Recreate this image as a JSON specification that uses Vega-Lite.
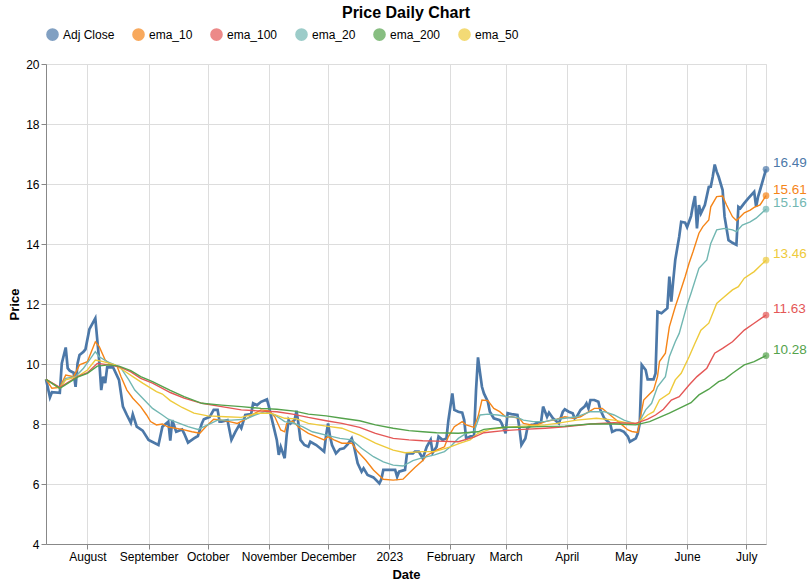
{
"$schema":"https://vega.github.io/schema/vega-lite/v6.json",
"width":720,"height":480,
"padding":{"left":8,"top":5,"right":0,"bottom":5},
"title":{"text":"Price Daily Chart","fontSize":16,"fontWeight":"bold","offset":7},
"config":{"font":"Liberation Sans","axis":{"labelFontSize":12,"titleFontSize":13},"axisX":{"titlePadding":6},"legend":{"orient":"top","title":null,"labelFontSize":12,"symbolSize":160,"symbolType":"circle","columnPadding":17,"offset":23}},
"data":{"format":{"parse":{"Date":"date"}},"values":[
{"Date":"2022-07-11","Series":"Adj Close","Price":9.49},{"Date":"2022-07-13","Series":"Adj Close","Price":8.89},{"Date":"2022-07-14","Series":"Adj Close","Price":9.06},{"Date":"2022-07-18","Series":"Adj Close","Price":9.04},{"Date":"2022-07-19","Series":"Adj Close","Price":10.02},{"Date":"2022-07-21","Series":"Adj Close","Price":10.55},{"Date":"2022-07-22","Series":"Adj Close","Price":9.86},{"Date":"2022-07-23","Series":"Adj Close","Price":9.78},{"Date":"2022-07-25","Series":"Adj Close","Price":9.71},{"Date":"2022-07-26","Series":"Adj Close","Price":9.24},{"Date":"2022-07-27","Series":"Adj Close","Price":10.02},{"Date":"2022-07-28","Series":"Adj Close","Price":10.3},{"Date":"2022-07-30","Series":"Adj Close","Price":10.41},{"Date":"2022-07-31","Series":"Adj Close","Price":10.49},{"Date":"2022-08-02","Series":"Adj Close","Price":11.16},{"Date":"2022-08-05","Series":"Adj Close","Price":11.52},{"Date":"2022-08-06","Series":"Adj Close","Price":10.8},{"Date":"2022-08-07","Series":"Adj Close","Price":10.08},{"Date":"2022-08-08","Series":"Adj Close","Price":9.13},{"Date":"2022-08-09","Series":"Adj Close","Price":9.58},{"Date":"2022-08-10","Series":"Adj Close","Price":9.36},{"Date":"2022-08-11","Series":"Adj Close","Price":9.89},{"Date":"2022-08-14","Series":"Adj Close","Price":9.89},{"Date":"2022-08-17","Series":"Adj Close","Price":9.47},{"Date":"2022-08-19","Series":"Adj Close","Price":8.58},{"Date":"2022-08-21","Series":"Adj Close","Price":8.3},{"Date":"2022-08-23","Series":"Adj Close","Price":8.04},{"Date":"2022-08-24","Series":"Adj Close","Price":8.32},{"Date":"2022-08-26","Series":"Adj Close","Price":7.91},{"Date":"2022-08-29","Series":"Adj Close","Price":7.78},{"Date":"2022-09-01","Series":"Adj Close","Price":7.47},{"Date":"2022-09-06","Series":"Adj Close","Price":7.3},{"Date":"2022-09-08","Series":"Adj Close","Price":7.91},{"Date":"2022-09-11","Series":"Adj Close","Price":8.08},{"Date":"2022-09-12","Series":"Adj Close","Price":7.45},{"Date":"2022-09-13","Series":"Adj Close","Price":8.13},{"Date":"2022-09-15","Series":"Adj Close","Price":7.74},{"Date":"2022-09-18","Series":"Adj Close","Price":7.82},{"Date":"2022-09-19","Series":"Adj Close","Price":7.69},{"Date":"2022-09-21","Series":"Adj Close","Price":7.38},{"Date":"2022-09-24","Series":"Adj Close","Price":7.52},{"Date":"2022-09-26","Series":"Adj Close","Price":7.6},{"Date":"2022-09-28","Series":"Adj Close","Price":8.02},{"Date":"2022-09-29","Series":"Adj Close","Price":8.16},{"Date":"2022-10-02","Series":"Adj Close","Price":8.24},{"Date":"2022-10-04","Series":"Adj Close","Price":8.47},{"Date":"2022-10-06","Series":"Adj Close","Price":8.47},{"Date":"2022-10-07","Series":"Adj Close","Price":8.08},{"Date":"2022-10-08","Series":"Adj Close","Price":8.08},{"Date":"2022-10-11","Series":"Adj Close","Price":8.13},{"Date":"2022-10-13","Series":"Adj Close","Price":7.47},{"Date":"2022-10-15","Series":"Adj Close","Price":7.74},{"Date":"2022-10-17","Series":"Adj Close","Price":7.97},{"Date":"2022-10-18","Series":"Adj Close","Price":7.86},{"Date":"2022-10-20","Series":"Adj Close","Price":8.3},{"Date":"2022-10-23","Series":"Adj Close","Price":8.33},{"Date":"2022-10-24","Series":"Adj Close","Price":8.69},{"Date":"2022-10-26","Series":"Adj Close","Price":8.63},{"Date":"2022-10-28","Series":"Adj Close","Price":8.74},{"Date":"2022-10-31","Series":"Adj Close","Price":8.82},{"Date":"2022-11-01","Series":"Adj Close","Price":8.58},{"Date":"2022-11-03","Series":"Adj Close","Price":8.02},{"Date":"2022-11-05","Series":"Adj Close","Price":7.47},{"Date":"2022-11-06","Series":"Adj Close","Price":6.97},{"Date":"2022-11-07","Series":"Adj Close","Price":7.24},{"Date":"2022-11-09","Series":"Adj Close","Price":6.86},{"Date":"2022-11-10","Series":"Adj Close","Price":7.63},{"Date":"2022-11-11","Series":"Adj Close","Price":8.13},{"Date":"2022-11-12","Series":"Adj Close","Price":8.02},{"Date":"2022-11-14","Series":"Adj Close","Price":8.13},{"Date":"2022-11-15","Series":"Adj Close","Price":8.44},{"Date":"2022-11-16","Series":"Adj Close","Price":8.0},{"Date":"2022-11-17","Series":"Adj Close","Price":7.47},{"Date":"2022-11-19","Series":"Adj Close","Price":7.3},{"Date":"2022-11-21","Series":"Adj Close","Price":7.24},{"Date":"2022-11-22","Series":"Adj Close","Price":7.41},{"Date":"2022-11-25","Series":"Adj Close","Price":7.3},{"Date":"2022-11-27","Series":"Adj Close","Price":7.19},{"Date":"2022-11-29","Series":"Adj Close","Price":7.08},{"Date":"2022-11-30","Series":"Adj Close","Price":7.63},{"Date":"2022-12-01","Series":"Adj Close","Price":8.02},{"Date":"2022-12-02","Series":"Adj Close","Price":7.58},{"Date":"2022-12-03","Series":"Adj Close","Price":7.3},{"Date":"2022-12-05","Series":"Adj Close","Price":7.02},{"Date":"2022-12-07","Series":"Adj Close","Price":7.16},{"Date":"2022-12-09","Series":"Adj Close","Price":7.19},{"Date":"2022-12-11","Series":"Adj Close","Price":7.33},{"Date":"2022-12-13","Series":"Adj Close","Price":7.52},{"Date":"2022-12-14","Series":"Adj Close","Price":7.3},{"Date":"2022-12-16","Series":"Adj Close","Price":6.69},{"Date":"2022-12-18","Series":"Adj Close","Price":6.41},{"Date":"2022-12-19","Series":"Adj Close","Price":6.52},{"Date":"2022-12-21","Series":"Adj Close","Price":6.3},{"Date":"2022-12-24","Series":"Adj Close","Price":6.22},{"Date":"2022-12-27","Series":"Adj Close","Price":6.02},{"Date":"2022-12-28","Series":"Adj Close","Price":6.16},{"Date":"2022-12-29","Series":"Adj Close","Price":6.47},{"Date":"2023-01-01","Series":"Adj Close","Price":6.47},{"Date":"2023-01-04","Series":"Adj Close","Price":6.47},{"Date":"2023-01-05","Series":"Adj Close","Price":6.24},{"Date":"2023-01-06","Series":"Adj Close","Price":6.41},{"Date":"2023-01-09","Series":"Adj Close","Price":6.47},{"Date":"2023-01-10","Series":"Adj Close","Price":7.02},{"Date":"2023-01-13","Series":"Adj Close","Price":7.02},{"Date":"2023-01-14","Series":"Adj Close","Price":7.08},{"Date":"2023-01-16","Series":"Adj Close","Price":7.08},{"Date":"2023-01-18","Series":"Adj Close","Price":6.85},{"Date":"2023-01-20","Series":"Adj Close","Price":7.24},{"Date":"2023-01-22","Series":"Adj Close","Price":7.47},{"Date":"2023-01-23","Series":"Adj Close","Price":7.04},{"Date":"2023-01-25","Series":"Adj Close","Price":7.24},{"Date":"2023-01-26","Series":"Adj Close","Price":7.58},{"Date":"2023-01-28","Series":"Adj Close","Price":7.47},{"Date":"2023-01-30","Series":"Adj Close","Price":7.52},{"Date":"2023-01-31","Series":"Adj Close","Price":8.13},{"Date":"2023-02-02","Series":"Adj Close","Price":9.02},{"Date":"2023-02-03","Series":"Adj Close","Price":8.47},{"Date":"2023-02-05","Series":"Adj Close","Price":8.41},{"Date":"2023-02-07","Series":"Adj Close","Price":8.38},{"Date":"2023-02-08","Series":"Adj Close","Price":8.13},{"Date":"2023-02-09","Series":"Adj Close","Price":7.52},{"Date":"2023-02-11","Series":"Adj Close","Price":7.58},{"Date":"2023-02-13","Series":"Adj Close","Price":7.63},{"Date":"2023-02-14","Series":"Adj Close","Price":9.13},{"Date":"2023-02-15","Series":"Adj Close","Price":10.22},{"Date":"2023-02-16","Series":"Adj Close","Price":9.72},{"Date":"2023-02-17","Series":"Adj Close","Price":9.24},{"Date":"2023-02-18","Series":"Adj Close","Price":9.02},{"Date":"2023-02-20","Series":"Adj Close","Price":8.74},{"Date":"2023-02-21","Series":"Adj Close","Price":8.41},{"Date":"2023-02-23","Series":"Adj Close","Price":8.19},{"Date":"2023-02-26","Series":"Adj Close","Price":8.13},{"Date":"2023-02-27","Series":"Adj Close","Price":8.02},{"Date":"2023-03-01","Series":"Adj Close","Price":7.69},{"Date":"2023-03-02","Series":"Adj Close","Price":8.36},{"Date":"2023-03-04","Series":"Adj Close","Price":8.33},{"Date":"2023-03-07","Series":"Adj Close","Price":8.3},{"Date":"2023-03-08","Series":"Adj Close","Price":7.86},{"Date":"2023-03-09","Series":"Adj Close","Price":7.3},{"Date":"2023-03-11","Series":"Adj Close","Price":7.52},{"Date":"2023-03-12","Series":"Adj Close","Price":7.86},{"Date":"2023-03-14","Series":"Adj Close","Price":7.97},{"Date":"2023-03-15","Series":"Adj Close","Price":7.97},{"Date":"2023-03-17","Series":"Adj Close","Price":8.04},{"Date":"2023-03-19","Series":"Adj Close","Price":8.08},{"Date":"2023-03-20","Series":"Adj Close","Price":8.58},{"Date":"2023-03-22","Series":"Adj Close","Price":8.24},{"Date":"2023-03-23","Series":"Adj Close","Price":8.38},{"Date":"2023-03-25","Series":"Adj Close","Price":8.19},{"Date":"2023-03-26","Series":"Adj Close","Price":8.13},{"Date":"2023-03-28","Series":"Adj Close","Price":8.02},{"Date":"2023-03-30","Series":"Adj Close","Price":8.41},{"Date":"2023-03-31","Series":"Adj Close","Price":8.49},{"Date":"2023-04-02","Series":"Adj Close","Price":8.41},{"Date":"2023-04-04","Series":"Adj Close","Price":8.36},{"Date":"2023-04-05","Series":"Adj Close","Price":8.19},{"Date":"2023-04-06","Series":"Adj Close","Price":8.24},{"Date":"2023-04-08","Series":"Adj Close","Price":8.47},{"Date":"2023-04-10","Series":"Adj Close","Price":8.58},{"Date":"2023-04-11","Series":"Adj Close","Price":8.69},{"Date":"2023-04-12","Series":"Adj Close","Price":8.52},{"Date":"2023-04-13","Series":"Adj Close","Price":8.8},{"Date":"2023-04-15","Series":"Adj Close","Price":8.8},{"Date":"2023-04-17","Series":"Adj Close","Price":8.74},{"Date":"2023-04-18","Series":"Adj Close","Price":8.47},{"Date":"2023-04-20","Series":"Adj Close","Price":8.19},{"Date":"2023-04-21","Series":"Adj Close","Price":8.13},{"Date":"2023-04-23","Series":"Adj Close","Price":8.02},{"Date":"2023-04-24","Series":"Adj Close","Price":7.74},{"Date":"2023-04-26","Series":"Adj Close","Price":7.8},{"Date":"2023-04-28","Series":"Adj Close","Price":7.8},{"Date":"2023-04-30","Series":"Adj Close","Price":7.74},{"Date":"2023-05-02","Series":"Adj Close","Price":7.58},{"Date":"2023-05-03","Series":"Adj Close","Price":7.41},{"Date":"2023-05-06","Series":"Adj Close","Price":7.52},{"Date":"2023-05-07","Series":"Adj Close","Price":7.69},{"Date":"2023-05-08","Series":"Adj Close","Price":8.02},{"Date":"2023-05-09","Series":"Adj Close","Price":9.97},{"Date":"2023-05-11","Series":"Adj Close","Price":9.8},{"Date":"2023-05-12","Series":"Adj Close","Price":9.49},{"Date":"2023-05-15","Series":"Adj Close","Price":9.49},{"Date":"2023-05-16","Series":"Adj Close","Price":9.69},{"Date":"2023-05-17","Series":"Adj Close","Price":11.74},{"Date":"2023-05-19","Series":"Adj Close","Price":11.69},{"Date":"2023-05-22","Series":"Adj Close","Price":11.86},{"Date":"2023-05-23","Series":"Adj Close","Price":12.91},{"Date":"2023-05-24","Series":"Adj Close","Price":12.08},{"Date":"2023-05-25","Series":"Adj Close","Price":12.8},{"Date":"2023-05-26","Series":"Adj Close","Price":13.47},{"Date":"2023-05-27","Series":"Adj Close","Price":13.86},{"Date":"2023-05-28","Series":"Adj Close","Price":14.24},{"Date":"2023-05-29","Series":"Adj Close","Price":14.74},{"Date":"2023-05-31","Series":"Adj Close","Price":14.71},{"Date":"2023-06-01","Series":"Adj Close","Price":14.56},{"Date":"2023-06-03","Series":"Adj Close","Price":14.93},{"Date":"2023-06-04","Series":"Adj Close","Price":15.3},{"Date":"2023-06-05","Series":"Adj Close","Price":15.6},{"Date":"2023-06-06","Series":"Adj Close","Price":14.52},{"Date":"2023-06-07","Series":"Adj Close","Price":15.3},{"Date":"2023-06-08","Series":"Adj Close","Price":15.02},{"Date":"2023-06-10","Series":"Adj Close","Price":15.3},{"Date":"2023-06-12","Series":"Adj Close","Price":15.9},{"Date":"2023-06-13","Series":"Adj Close","Price":15.91},{"Date":"2023-06-14","Series":"Adj Close","Price":16.24},{"Date":"2023-06-15","Series":"Adj Close","Price":16.65},{"Date":"2023-06-16","Series":"Adj Close","Price":16.41},{"Date":"2023-06-17","Series":"Adj Close","Price":16.24},{"Date":"2023-06-19","Series":"Adj Close","Price":15.8},{"Date":"2023-06-20","Series":"Adj Close","Price":14.91},{"Date":"2023-06-22","Series":"Adj Close","Price":14.13},{"Date":"2023-06-24","Series":"Adj Close","Price":14.04},{"Date":"2023-06-26","Series":"Adj Close","Price":13.97},{"Date":"2023-06-27","Series":"Adj Close","Price":15.24},{"Date":"2023-06-28","Series":"Adj Close","Price":15.19},{"Date":"2023-06-30","Series":"Adj Close","Price":15.36},{"Date":"2023-07-02","Series":"Adj Close","Price":15.52},{"Date":"2023-07-05","Series":"Adj Close","Price":15.74},{"Date":"2023-07-06","Series":"Adj Close","Price":15.24},{"Date":"2023-07-07","Series":"Adj Close","Price":15.58},{"Date":"2023-07-08","Series":"Adj Close","Price":15.8},{"Date":"2023-07-11","Series":"Adj Close","Price":16.49},
{"Date":"2022-07-11","Series":"ema_10","Price":9.49},{"Date":"2022-07-14","Series":"ema_10","Price":9.19},{"Date":"2022-07-18","Series":"ema_10","Price":9.22},{"Date":"2022-07-21","Series":"ema_10","Price":9.63},{"Date":"2022-07-25","Series":"ema_10","Price":9.58},{"Date":"2022-07-28","Series":"ema_10","Price":9.97},{"Date":"2022-08-01","Series":"ema_10","Price":10.08},{"Date":"2022-08-03","Series":"ema_10","Price":10.41},{"Date":"2022-08-05","Series":"ema_10","Price":10.74},{"Date":"2022-08-07","Series":"ema_10","Price":10.58},{"Date":"2022-08-10","Series":"ema_10","Price":10.13},{"Date":"2022-08-12","Series":"ema_10","Price":10.02},{"Date":"2022-08-16","Series":"ema_10","Price":9.93},{"Date":"2022-08-18","Series":"ema_10","Price":9.58},{"Date":"2022-08-21","Series":"ema_10","Price":9.13},{"Date":"2022-08-24","Series":"ema_10","Price":8.86},{"Date":"2022-08-28","Series":"ema_10","Price":8.58},{"Date":"2022-08-31","Series":"ema_10","Price":8.3},{"Date":"2022-09-02","Series":"ema_10","Price":8.08},{"Date":"2022-09-05","Series":"ema_10","Price":7.97},{"Date":"2022-09-08","Series":"ema_10","Price":8.0},{"Date":"2022-09-11","Series":"ema_10","Price":7.9},{"Date":"2022-09-18","Series":"ema_10","Price":7.82},{"Date":"2022-09-23","Series":"ema_10","Price":7.74},{"Date":"2022-09-27","Series":"ema_10","Price":7.69},{"Date":"2022-09-30","Series":"ema_10","Price":7.91},{"Date":"2022-10-04","Series":"ema_10","Price":8.16},{"Date":"2022-10-08","Series":"ema_10","Price":8.13},{"Date":"2022-10-12","Series":"ema_10","Price":8.08},{"Date":"2022-10-16","Series":"ema_10","Price":8.02},{"Date":"2022-10-21","Series":"ema_10","Price":8.19},{"Date":"2022-10-25","Series":"ema_10","Price":8.36},{"Date":"2022-10-28","Series":"ema_10","Price":8.47},{"Date":"2022-11-01","Series":"ema_10","Price":8.44},{"Date":"2022-11-04","Series":"ema_10","Price":8.24},{"Date":"2022-11-07","Series":"ema_10","Price":7.8},{"Date":"2022-11-09","Series":"ema_10","Price":7.74},{"Date":"2022-11-10","Series":"ema_10","Price":8.02},{"Date":"2022-11-13","Series":"ema_10","Price":8.1},{"Date":"2022-11-16","Series":"ema_10","Price":7.9},{"Date":"2022-11-21","Series":"ema_10","Price":7.69},{"Date":"2022-11-25","Series":"ema_10","Price":7.58},{"Date":"2022-11-29","Series":"ema_10","Price":7.47},{"Date":"2022-12-01","Series":"ema_10","Price":7.58},{"Date":"2022-12-04","Series":"ema_10","Price":7.47},{"Date":"2022-12-08","Series":"ema_10","Price":7.36},{"Date":"2022-12-13","Series":"ema_10","Price":7.36},{"Date":"2022-12-16","Series":"ema_10","Price":7.08},{"Date":"2022-12-20","Series":"ema_10","Price":6.8},{"Date":"2022-12-24","Series":"ema_10","Price":6.47},{"Date":"2022-12-29","Series":"ema_10","Price":6.16},{"Date":"2023-01-03","Series":"ema_10","Price":6.13},{"Date":"2023-01-08","Series":"ema_10","Price":6.16},{"Date":"2023-01-11","Series":"ema_10","Price":6.36},{"Date":"2023-01-14","Series":"ema_10","Price":6.55},{"Date":"2023-01-18","Series":"ema_10","Price":6.78},{"Date":"2023-01-20","Series":"ema_10","Price":6.95},{"Date":"2023-01-25","Series":"ema_10","Price":7.13},{"Date":"2023-01-29","Series":"ema_10","Price":7.24},{"Date":"2023-01-31","Series":"ema_10","Price":7.58},{"Date":"2023-02-03","Series":"ema_10","Price":7.91},{"Date":"2023-02-07","Series":"ema_10","Price":8.08},{"Date":"2023-02-09","Series":"ema_10","Price":7.97},{"Date":"2023-02-13","Series":"ema_10","Price":7.89},{"Date":"2023-02-15","Series":"ema_10","Price":8.24},{"Date":"2023-02-17","Series":"ema_10","Price":8.8},{"Date":"2023-02-20","Series":"ema_10","Price":8.78},{"Date":"2023-02-23","Series":"ema_10","Price":8.52},{"Date":"2023-02-26","Series":"ema_10","Price":8.41},{"Date":"2023-03-01","Series":"ema_10","Price":8.24},{"Date":"2023-03-04","Series":"ema_10","Price":8.24},{"Date":"2023-03-08","Series":"ema_10","Price":8.19},{"Date":"2023-03-10","Series":"ema_10","Price":8.02},{"Date":"2023-03-14","Series":"ema_10","Price":7.97},{"Date":"2023-03-17","Series":"ema_10","Price":7.97},{"Date":"2023-03-21","Series":"ema_10","Price":8.08},{"Date":"2023-03-27","Series":"ema_10","Price":8.16},{"Date":"2023-03-31","Series":"ema_10","Price":8.24},{"Date":"2023-04-04","Series":"ema_10","Price":8.19},{"Date":"2023-04-08","Series":"ema_10","Price":8.24},{"Date":"2023-04-11","Series":"ema_10","Price":8.36},{"Date":"2023-04-15","Series":"ema_10","Price":8.52},{"Date":"2023-04-19","Series":"ema_10","Price":8.52},{"Date":"2023-04-21","Series":"ema_10","Price":8.41},{"Date":"2023-04-25","Series":"ema_10","Price":8.19},{"Date":"2023-04-29","Series":"ema_10","Price":7.97},{"Date":"2023-05-02","Series":"ema_10","Price":7.8},{"Date":"2023-05-04","Series":"ema_10","Price":7.75},{"Date":"2023-05-07","Series":"ema_10","Price":7.72},{"Date":"2023-05-08","Series":"ema_10","Price":8.1},{"Date":"2023-05-10","Series":"ema_10","Price":8.8},{"Date":"2023-05-12","Series":"ema_10","Price":8.93},{"Date":"2023-05-15","Series":"ema_10","Price":9.13},{"Date":"2023-05-17","Series":"ema_10","Price":9.58},{"Date":"2023-05-18","Series":"ema_10","Price":10.08},{"Date":"2023-05-21","Series":"ema_10","Price":10.36},{"Date":"2023-05-23","Series":"ema_10","Price":11.24},{"Date":"2023-05-26","Series":"ema_10","Price":11.91},{"Date":"2023-05-28","Series":"ema_10","Price":12.3},{"Date":"2023-05-31","Series":"ema_10","Price":12.91},{"Date":"2023-06-02","Series":"ema_10","Price":13.36},{"Date":"2023-06-04","Series":"ema_10","Price":13.74},{"Date":"2023-06-07","Series":"ema_10","Price":14.36},{"Date":"2023-06-09","Series":"ema_10","Price":14.58},{"Date":"2023-06-12","Series":"ema_10","Price":14.8},{"Date":"2023-06-13","Series":"ema_10","Price":15.24},{"Date":"2023-06-16","Series":"ema_10","Price":15.58},{"Date":"2023-06-19","Series":"ema_10","Price":15.6},{"Date":"2023-06-21","Series":"ema_10","Price":15.3},{"Date":"2023-06-24","Series":"ema_10","Price":14.91},{"Date":"2023-06-26","Series":"ema_10","Price":14.78},{"Date":"2023-06-28","Series":"ema_10","Price":14.91},{"Date":"2023-06-30","Series":"ema_10","Price":15.04},{"Date":"2023-07-03","Series":"ema_10","Price":15.13},{"Date":"2023-07-05","Series":"ema_10","Price":15.22},{"Date":"2023-07-08","Series":"ema_10","Price":15.3},{"Date":"2023-07-11","Series":"ema_10","Price":15.61},
{"Date":"2022-07-11","Series":"ema_20","Price":9.49},{"Date":"2022-07-18","Series":"ema_20","Price":9.19},{"Date":"2022-07-21","Series":"ema_20","Price":9.52},{"Date":"2022-07-26","Series":"ema_20","Price":9.58},{"Date":"2022-07-30","Series":"ema_20","Price":9.86},{"Date":"2022-08-02","Series":"ema_20","Price":10.13},{"Date":"2022-08-05","Series":"ema_20","Price":10.41},{"Date":"2022-08-07","Series":"ema_20","Price":10.24},{"Date":"2022-08-11","Series":"ema_20","Price":10.08},{"Date":"2022-08-15","Series":"ema_20","Price":9.97},{"Date":"2022-08-18","Series":"ema_20","Price":9.86},{"Date":"2022-08-22","Series":"ema_20","Price":9.47},{"Date":"2022-08-25","Series":"ema_20","Price":9.13},{"Date":"2022-08-29","Series":"ema_20","Price":8.86},{"Date":"2022-09-03","Series":"ema_20","Price":8.52},{"Date":"2022-09-08","Series":"ema_20","Price":8.3},{"Date":"2022-09-11","Series":"ema_20","Price":8.16},{"Date":"2022-09-16","Series":"ema_20","Price":8.04},{"Date":"2022-09-21","Series":"ema_20","Price":7.91},{"Date":"2022-09-26","Series":"ema_20","Price":7.82},{"Date":"2022-10-01","Series":"ema_20","Price":7.97},{"Date":"2022-10-06","Series":"ema_20","Price":8.13},{"Date":"2022-10-13","Series":"ema_20","Price":8.13},{"Date":"2022-10-20","Series":"ema_20","Price":8.16},{"Date":"2022-10-25","Series":"ema_20","Price":8.3},{"Date":"2022-10-30","Series":"ema_20","Price":8.41},{"Date":"2022-11-04","Series":"ema_20","Price":8.3},{"Date":"2022-11-09","Series":"ema_20","Price":8.08},{"Date":"2022-11-13","Series":"ema_20","Price":8.04},{"Date":"2022-11-18","Series":"ema_20","Price":7.91},{"Date":"2022-11-23","Series":"ema_20","Price":7.74},{"Date":"2022-11-30","Series":"ema_20","Price":7.63},{"Date":"2022-12-07","Series":"ema_20","Price":7.52},{"Date":"2022-12-13","Series":"ema_20","Price":7.47},{"Date":"2022-12-18","Series":"ema_20","Price":7.19},{"Date":"2022-12-24","Series":"ema_20","Price":6.91},{"Date":"2022-12-29","Series":"ema_20","Price":6.74},{"Date":"2023-01-03","Series":"ema_20","Price":6.63},{"Date":"2023-01-08","Series":"ema_20","Price":6.6},{"Date":"2023-01-13","Series":"ema_20","Price":6.78},{"Date":"2023-01-18","Series":"ema_20","Price":6.88},{"Date":"2023-01-24","Series":"ema_20","Price":6.97},{"Date":"2023-01-29","Series":"ema_20","Price":7.08},{"Date":"2023-02-01","Series":"ema_20","Price":7.24},{"Date":"2023-02-05","Series":"ema_20","Price":7.52},{"Date":"2023-02-09","Series":"ema_20","Price":7.69},{"Date":"2023-02-13","Series":"ema_20","Price":7.74},{"Date":"2023-02-16","Series":"ema_20","Price":8.3},{"Date":"2023-02-20","Series":"ema_20","Price":8.33},{"Date":"2023-02-25","Series":"ema_20","Price":8.3},{"Date":"2023-03-02","Series":"ema_20","Price":8.24},{"Date":"2023-03-07","Series":"ema_20","Price":8.22},{"Date":"2023-03-10","Series":"ema_20","Price":8.13},{"Date":"2023-03-15","Series":"ema_20","Price":8.08},{"Date":"2023-03-21","Series":"ema_20","Price":8.08},{"Date":"2023-03-24","Series":"ema_20","Price":8.13},{"Date":"2023-03-31","Series":"ema_20","Price":8.19},{"Date":"2023-04-06","Series":"ema_20","Price":8.24},{"Date":"2023-04-13","Series":"ema_20","Price":8.41},{"Date":"2023-04-20","Series":"ema_20","Price":8.41},{"Date":"2023-04-25","Series":"ema_20","Price":8.3},{"Date":"2023-04-30","Series":"ema_20","Price":8.13},{"Date":"2023-05-05","Series":"ema_20","Price":8.02},{"Date":"2023-05-07","Series":"ema_20","Price":7.98},{"Date":"2023-05-11","Series":"ema_20","Price":8.47},{"Date":"2023-05-14","Series":"ema_20","Price":8.69},{"Date":"2023-05-17","Series":"ema_20","Price":9.24},{"Date":"2023-05-21","Series":"ema_20","Price":9.58},{"Date":"2023-05-23","Series":"ema_20","Price":10.24},{"Date":"2023-05-26","Series":"ema_20","Price":10.74},{"Date":"2023-05-28","Series":"ema_20","Price":11.02},{"Date":"2023-06-01","Series":"ema_20","Price":11.97},{"Date":"2023-06-03","Series":"ema_20","Price":12.36},{"Date":"2023-06-07","Series":"ema_20","Price":13.19},{"Date":"2023-06-11","Series":"ema_20","Price":13.47},{"Date":"2023-06-13","Series":"ema_20","Price":14.02},{"Date":"2023-06-16","Series":"ema_20","Price":14.47},{"Date":"2023-06-20","Series":"ema_20","Price":14.52},{"Date":"2023-06-24","Series":"ema_20","Price":14.47},{"Date":"2023-06-26","Series":"ema_20","Price":14.41},{"Date":"2023-06-29","Series":"ema_20","Price":14.63},{"Date":"2023-07-03","Series":"ema_20","Price":14.74},{"Date":"2023-07-06","Series":"ema_20","Price":14.86},{"Date":"2023-07-11","Series":"ema_20","Price":15.16},
{"Date":"2022-07-11","Series":"ema_50","Price":9.49},{"Date":"2022-07-18","Series":"ema_50","Price":9.19},{"Date":"2022-07-21","Series":"ema_50","Price":9.47},{"Date":"2022-07-27","Series":"ema_50","Price":9.58},{"Date":"2022-08-01","Series":"ema_50","Price":9.8},{"Date":"2022-08-05","Series":"ema_50","Price":10.13},{"Date":"2022-08-09","Series":"ema_50","Price":10.08},{"Date":"2022-08-15","Series":"ema_50","Price":9.97},{"Date":"2022-08-19","Series":"ema_50","Price":9.8},{"Date":"2022-08-24","Series":"ema_50","Price":9.58},{"Date":"2022-08-29","Series":"ema_50","Price":9.36},{"Date":"2022-09-05","Series":"ema_50","Price":9.08},{"Date":"2022-09-08","Series":"ema_50","Price":9.0},{"Date":"2022-09-12","Series":"ema_50","Price":8.78},{"Date":"2022-09-18","Series":"ema_50","Price":8.55},{"Date":"2022-09-24","Series":"ema_50","Price":8.36},{"Date":"2022-10-01","Series":"ema_50","Price":8.27},{"Date":"2022-10-10","Series":"ema_50","Price":8.24},{"Date":"2022-10-18","Series":"ema_50","Price":8.22},{"Date":"2022-10-26","Series":"ema_50","Price":8.36},{"Date":"2022-11-02","Series":"ema_50","Price":8.36},{"Date":"2022-11-09","Series":"ema_50","Price":8.19},{"Date":"2022-11-15","Series":"ema_50","Price":8.17},{"Date":"2022-11-21","Series":"ema_50","Price":8.02},{"Date":"2022-11-30","Series":"ema_50","Price":7.93},{"Date":"2022-12-08","Series":"ema_50","Price":7.86},{"Date":"2022-12-17","Series":"ema_50","Price":7.63},{"Date":"2022-12-25","Series":"ema_50","Price":7.36},{"Date":"2023-01-03","Series":"ema_50","Price":7.13},{"Date":"2023-01-09","Series":"ema_50","Price":7.04},{"Date":"2023-01-18","Series":"ema_50","Price":7.08},{"Date":"2023-01-24","Series":"ema_50","Price":7.08},{"Date":"2023-02-01","Series":"ema_50","Price":7.24},{"Date":"2023-02-06","Series":"ema_50","Price":7.36},{"Date":"2023-02-11","Series":"ema_50","Price":7.47},{"Date":"2023-02-15","Series":"ema_50","Price":7.69},{"Date":"2023-02-21","Series":"ema_50","Price":7.82},{"Date":"2023-03-02","Series":"ema_50","Price":7.89},{"Date":"2023-03-10","Series":"ema_50","Price":7.93},{"Date":"2023-03-21","Series":"ema_50","Price":7.97},{"Date":"2023-03-27","Series":"ema_50","Price":8.02},{"Date":"2023-04-06","Series":"ema_50","Price":8.13},{"Date":"2023-04-16","Series":"ema_50","Price":8.19},{"Date":"2023-04-25","Series":"ema_50","Price":8.13},{"Date":"2023-05-01","Series":"ema_50","Price":8.04},{"Date":"2023-05-07","Series":"ema_50","Price":8.02},{"Date":"2023-05-12","Series":"ema_50","Price":8.3},{"Date":"2023-05-15","Series":"ema_50","Price":8.41},{"Date":"2023-05-18","Series":"ema_50","Price":8.8},{"Date":"2023-05-23","Series":"ema_50","Price":9.02},{"Date":"2023-05-26","Series":"ema_50","Price":9.47},{"Date":"2023-05-29","Series":"ema_50","Price":9.69},{"Date":"2023-06-02","Series":"ema_50","Price":10.24},{"Date":"2023-06-05","Series":"ema_50","Price":10.69},{"Date":"2023-06-08","Series":"ema_50","Price":11.13},{"Date":"2023-06-12","Series":"ema_50","Price":11.36},{"Date":"2023-06-16","Series":"ema_50","Price":12.02},{"Date":"2023-06-19","Series":"ema_50","Price":12.19},{"Date":"2023-06-24","Series":"ema_50","Price":12.47},{"Date":"2023-06-27","Series":"ema_50","Price":12.58},{"Date":"2023-06-30","Series":"ema_50","Price":12.86},{"Date":"2023-07-05","Series":"ema_50","Price":13.08},{"Date":"2023-07-11","Series":"ema_50","Price":13.46},
{"Date":"2022-07-11","Series":"ema_100","Price":9.49},{"Date":"2022-07-18","Series":"ema_100","Price":9.22},{"Date":"2022-07-27","Series":"ema_100","Price":9.58},{"Date":"2022-08-01","Series":"ema_100","Price":9.71},{"Date":"2022-08-06","Series":"ema_100","Price":10.02},{"Date":"2022-08-12","Series":"ema_100","Price":9.97},{"Date":"2022-08-17","Series":"ema_100","Price":9.91},{"Date":"2022-08-23","Series":"ema_100","Price":9.74},{"Date":"2022-08-28","Series":"ema_100","Price":9.52},{"Date":"2022-09-03","Series":"ema_100","Price":9.36},{"Date":"2022-09-12","Series":"ema_100","Price":9.05},{"Date":"2022-09-19","Series":"ema_100","Price":8.86},{"Date":"2022-09-28","Series":"ema_100","Price":8.69},{"Date":"2022-10-08","Series":"ema_100","Price":8.58},{"Date":"2022-10-18","Series":"ema_100","Price":8.47},{"Date":"2022-10-28","Series":"ema_100","Price":8.43},{"Date":"2022-11-05","Series":"ema_100","Price":8.41},{"Date":"2022-11-13","Series":"ema_100","Price":8.33},{"Date":"2022-11-21","Series":"ema_100","Price":8.22},{"Date":"2022-11-30","Series":"ema_100","Price":8.11},{"Date":"2022-12-08","Series":"ema_100","Price":8.02},{"Date":"2022-12-17","Series":"ema_100","Price":7.89},{"Date":"2022-12-25","Series":"ema_100","Price":7.69},{"Date":"2023-01-03","Series":"ema_100","Price":7.52},{"Date":"2023-01-11","Series":"ema_100","Price":7.47},{"Date":"2023-01-18","Series":"ema_100","Price":7.44},{"Date":"2023-01-25","Series":"ema_100","Price":7.43},{"Date":"2023-02-05","Series":"ema_100","Price":7.41},{"Date":"2023-02-13","Series":"ema_100","Price":7.56},{"Date":"2023-02-18","Series":"ema_100","Price":7.71},{"Date":"2023-02-28","Series":"ema_100","Price":7.78},{"Date":"2023-03-10","Series":"ema_100","Price":7.82},{"Date":"2023-03-21","Series":"ema_100","Price":7.86},{"Date":"2023-03-31","Series":"ema_100","Price":7.91},{"Date":"2023-04-13","Series":"ema_100","Price":8.0},{"Date":"2023-04-25","Series":"ema_100","Price":8.04},{"Date":"2023-05-06","Series":"ema_100","Price":8.02},{"Date":"2023-05-12","Series":"ema_100","Price":8.16},{"Date":"2023-05-16","Series":"ema_100","Price":8.3},{"Date":"2023-05-20","Series":"ema_100","Price":8.49},{"Date":"2023-05-24","Series":"ema_100","Price":8.8},{"Date":"2023-05-28","Series":"ema_100","Price":8.91},{"Date":"2023-06-02","Series":"ema_100","Price":9.3},{"Date":"2023-06-06","Series":"ema_100","Price":9.58},{"Date":"2023-06-11","Series":"ema_100","Price":9.86},{"Date":"2023-06-15","Series":"ema_100","Price":10.36},{"Date":"2023-06-19","Series":"ema_100","Price":10.52},{"Date":"2023-06-24","Series":"ema_100","Price":10.74},{"Date":"2023-06-30","Series":"ema_100","Price":11.13},{"Date":"2023-07-05","Series":"ema_100","Price":11.36},{"Date":"2023-07-11","Series":"ema_100","Price":11.63},
{"Date":"2022-07-11","Series":"ema_200","Price":9.49},{"Date":"2022-07-18","Series":"ema_200","Price":9.19},{"Date":"2022-07-27","Series":"ema_200","Price":9.56},{"Date":"2022-08-01","Series":"ema_200","Price":9.69},{"Date":"2022-08-06","Series":"ema_200","Price":9.93},{"Date":"2022-08-12","Series":"ema_200","Price":9.97},{"Date":"2022-08-17","Series":"ema_200","Price":9.93},{"Date":"2022-08-23","Series":"ema_200","Price":9.78},{"Date":"2022-08-28","Series":"ema_200","Price":9.58},{"Date":"2022-09-03","Series":"ema_200","Price":9.41},{"Date":"2022-09-12","Series":"ema_200","Price":9.12},{"Date":"2022-09-19","Series":"ema_200","Price":8.91},{"Date":"2022-09-28","Series":"ema_200","Price":8.69},{"Date":"2022-10-08","Series":"ema_200","Price":8.63},{"Date":"2022-10-18","Series":"ema_200","Price":8.58},{"Date":"2022-10-28","Series":"ema_200","Price":8.52},{"Date":"2022-11-05","Series":"ema_200","Price":8.49},{"Date":"2022-11-14","Series":"ema_200","Price":8.43},{"Date":"2022-11-21","Series":"ema_200","Price":8.33},{"Date":"2022-11-30","Series":"ema_200","Price":8.27},{"Date":"2022-12-08","Series":"ema_200","Price":8.19},{"Date":"2022-12-17","Series":"ema_200","Price":8.11},{"Date":"2022-12-25","Series":"ema_200","Price":7.97},{"Date":"2023-01-03","Series":"ema_200","Price":7.86},{"Date":"2023-01-11","Series":"ema_200","Price":7.78},{"Date":"2023-01-18","Series":"ema_200","Price":7.74},{"Date":"2023-01-25","Series":"ema_200","Price":7.71},{"Date":"2023-02-05","Series":"ema_200","Price":7.69},{"Date":"2023-02-15","Series":"ema_200","Price":7.74},{"Date":"2023-02-18","Series":"ema_200","Price":7.82},{"Date":"2023-02-28","Series":"ema_200","Price":7.89},{"Date":"2023-03-10","Series":"ema_200","Price":7.89},{"Date":"2023-03-21","Series":"ema_200","Price":7.92},{"Date":"2023-03-31","Series":"ema_200","Price":7.93},{"Date":"2023-04-13","Series":"ema_200","Price":8.0},{"Date":"2023-04-25","Series":"ema_200","Price":8.0},{"Date":"2023-05-06","Series":"ema_200","Price":7.97},{"Date":"2023-05-13","Series":"ema_200","Price":8.08},{"Date":"2023-05-18","Series":"ema_200","Price":8.22},{"Date":"2023-05-23","Series":"ema_200","Price":8.36},{"Date":"2023-05-28","Series":"ema_200","Price":8.52},{"Date":"2023-06-03","Series":"ema_200","Price":8.71},{"Date":"2023-06-07","Series":"ema_200","Price":8.97},{"Date":"2023-06-12","Series":"ema_200","Price":9.16},{"Date":"2023-06-17","Series":"ema_200","Price":9.41},{"Date":"2023-06-20","Series":"ema_200","Price":9.49},{"Date":"2023-06-24","Series":"ema_200","Price":9.69},{"Date":"2023-06-30","Series":"ema_200","Price":9.97},{"Date":"2023-07-05","Series":"ema_200","Price":10.08},{"Date":"2023-07-11","Series":"ema_200","Price":10.28}
]},
"layer":[
{"mark":{"type":"line"},
 "encoding":{
  "x":{"field":"Date","type":"temporal","title":"Date","axis":{"tickCount":{"interval":"month","step":1}}},
  "y":{"field":"Price","type":"quantitative","title":"Price","scale":{"domain":[4,20]},"axis":{"tickCount":8}},
  "color":{"field":"Series","type":"nominal","legend":{"symbolType":"circle","encode":{"symbols":{"update":{"fill":{"scale":"color","field":"value"},"fillOpacity":{"value":0.7},"strokeWidth":{"value":0}}}}}},
  "strokeWidth":{"condition":{"test":"datum.Series === 'Adj Close'","value":2.7},"value":1.4}
 }},
{"transform":[{"filter":"datum.Date >= datetime(2023,6,10)"}],
 "mark":{"type":"circle","size":45,"opacity":0.7},
 "encoding":{
  "x":{"field":"Date","type":"temporal"},
  "y":{"field":"Price","type":"quantitative"},
  "color":{"field":"Series","type":"nominal"}
 }},
{"transform":[{"filter":"datum.Date >= datetime(2023,6,10)"}],
 "mark":{"type":"text","align":"left","dx":7,"dy":-6,"fontSize":13.5},
 "encoding":{
  "x":{"field":"Date","type":"temporal"},
  "y":{"field":"Price","type":"quantitative"},
  "color":{"field":"Series","type":"nominal"},
  "text":{"field":"Price","type":"quantitative","format":".2f"}
 }}
]
}
